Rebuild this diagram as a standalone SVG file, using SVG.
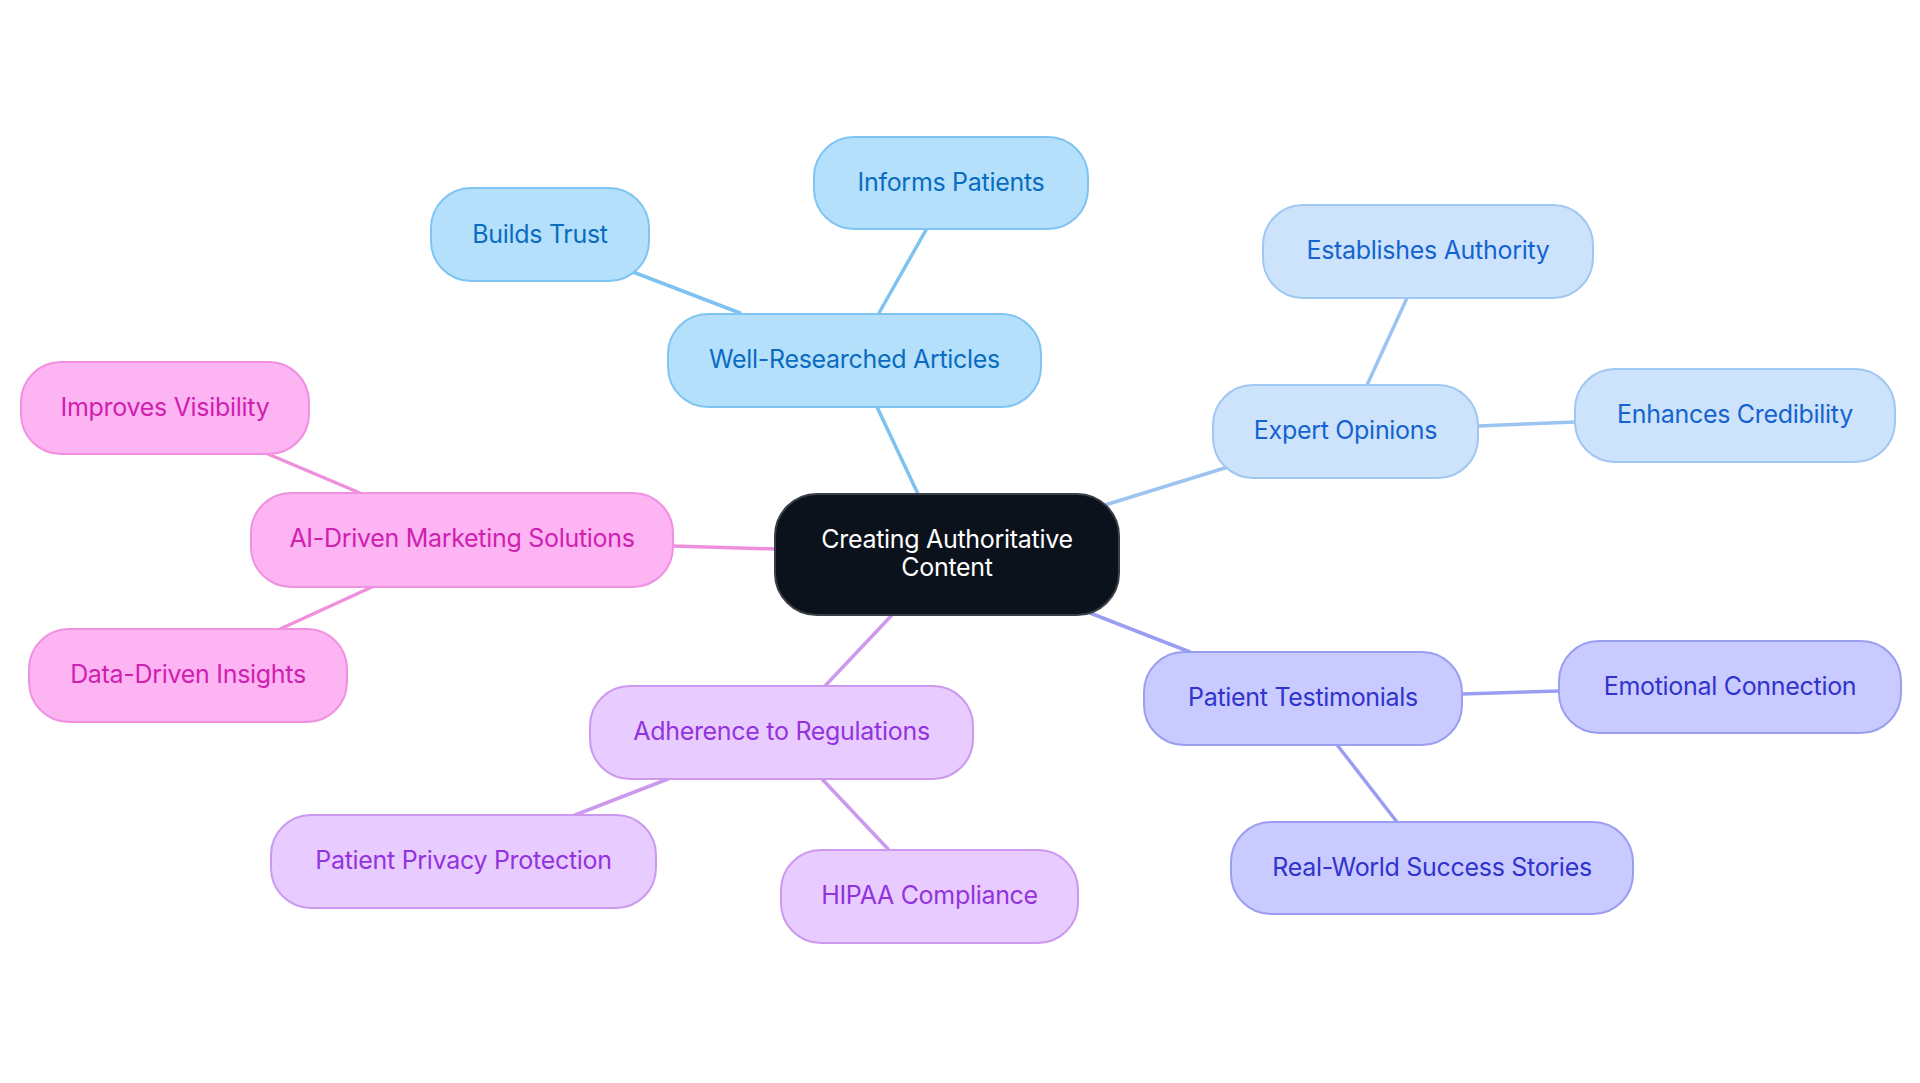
<svg xmlns="http://www.w3.org/2000/svg" width="1920" height="1083" viewBox="0 0 1920 1083">
<style>
text{font-family:Inter,"Noto Sans","DejaVu Sans",sans-serif;font-size:25px;letter-spacing:-0.3px;text-anchor:middle}
.n rect{stroke-width:2}
.c line{stroke-width:3.5;stroke-linecap:round}
.b1 rect{fill:#b5e0fc;stroke:#80c4f2}.b1 text{fill:#0a6cc0}
.b2 rect{fill:#cde3fb;stroke:#9fc7f2}.b2 text{fill:#1463d0}
.b3 rect{fill:#c9caff;stroke:#9a9ef0}.b3 text{fill:#3033cc}
.b4 rect{fill:#e8ccff;stroke:#cc99ee}.b4 text{fill:#9333dd}
.b5 rect{fill:#fdb4f3;stroke:#f090e0}.b5 text{fill:#d020b0}
.l1{stroke:#7dc2f0}.l2{stroke:#9cc4f0}.l3{stroke:#9a9ef2}.l4{stroke:#cc99ee}.l5{stroke:#f090dd}
</style>
<rect width="1920" height="1083" fill="#ffffff"/>
<g id="connectors" class="c">
<line class="l1" x1="918" y1="494" x2="877" y2="407"/>
<line class="l1" x1="740" y1="313" x2="633" y2="272"/>
<line class="l1" x1="879" y1="313" x2="926" y2="230"/>
<line class="l2" x1="1105" y1="505" x2="1228" y2="467"/>
<line class="l2" x1="1367" y1="385" x2="1407" y2="298"/>
<line class="l2" x1="1478" y1="426" x2="1576" y2="422"/>
<line class="l3" x1="1090" y1="613" x2="1190" y2="652"/>
<line class="l3" x1="1462" y1="694" x2="1559" y2="691"/>
<line class="l3" x1="1338" y1="746" x2="1397" y2="822"/>
<line class="l4" x1="892" y1="615" x2="825" y2="686"/>
<line class="l4" x1="668" y1="779" x2="575" y2="815"/>
<line class="l4" x1="822" y1="779" x2="888" y2="849"/>
<line class="l5" x1="775" y1="549" x2="673" y2="546"/>
<line class="l5" x1="360" y1="493" x2="268" y2="454"/>
<line class="l5" x1="372" y1="587" x2="280" y2="629"/>
</g>
<g id="center" class="n">
<rect x="775" y="494" width="344" height="121" rx="42" fill="#0c121b" stroke="#3a3f47"/>
<text x="947" y="548" fill="#ffffff">Creating Authoritative</text>
<text x="947" y="576" fill="#ffffff">Content</text>
</g>
<g id="well-researched" class="n b1"><rect x="668" y="314" width="373" height="93" rx="40"/><text x="854.5" y="368">Well-Researched Articles</text></g>
<g id="builds-trust" class="n b1"><rect x="431" y="188" width="218" height="93" rx="40"/><text x="540" y="243">Builds Trust</text></g>
<g id="informs-patients" class="n b1"><rect x="814" y="137" width="274" height="92" rx="40"/><text x="951" y="191">Informs Patients</text></g>
<g id="expert-opinions" class="n b2"><rect x="1213" y="385" width="265" height="93" rx="40"/><text x="1345.5" y="439">Expert Opinions</text></g>
<g id="establishes-authority" class="n b2"><rect x="1263" y="205" width="330" height="93" rx="40"/><text x="1428" y="259">Establishes Authority</text></g>
<g id="enhances-credibility" class="n b2"><rect x="1575" y="369" width="320" height="93" rx="40"/><text x="1735" y="423">Enhances Credibility</text></g>
<g id="patient-testimonials" class="n b3"><rect x="1144" y="652" width="318" height="93" rx="40"/><text x="1303" y="706">Patient Testimonials</text></g>
<g id="emotional-connection" class="n b3"><rect x="1559" y="641" width="342" height="92" rx="40"/><text x="1730" y="695">Emotional Connection</text></g>
<g id="real-world" class="n b3"><rect x="1231" y="822" width="402" height="92" rx="40"/><text x="1432" y="876">Real-World Success Stories</text></g>
<g id="adherence" class="n b4"><rect x="590" y="686" width="383" height="93" rx="40"/><text x="781.5" y="740">Adherence to Regulations</text></g>
<g id="patient-privacy" class="n b4"><rect x="271" y="815" width="385" height="93" rx="40"/><text x="463.5" y="869">Patient Privacy Protection</text></g>
<g id="hipaa" class="n b4"><rect x="781" y="850" width="297" height="93" rx="40"/><text x="929.5" y="904">HIPAA Compliance</text></g>
<g id="ai-driven" class="n b5"><rect x="251" y="493" width="422" height="94" rx="40"/><text x="462" y="547">AI-Driven Marketing Solutions</text></g>
<g id="improves-visibility" class="n b5"><rect x="21" y="362" width="288" height="92" rx="40"/><text x="165" y="416">Improves Visibility</text></g>
<g id="data-driven" class="n b5"><rect x="29" y="629" width="318" height="93" rx="40"/><text x="188" y="683">Data-Driven Insights</text></g>
</svg>
